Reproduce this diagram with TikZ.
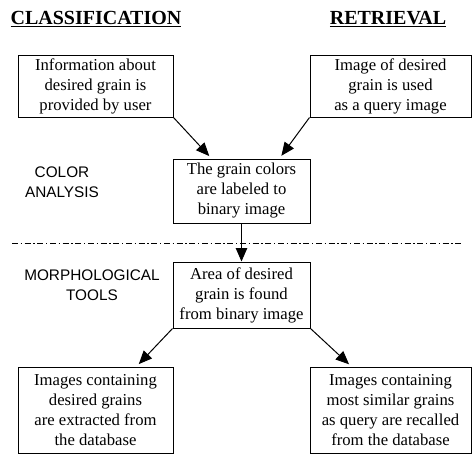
\documentclass[tikz,border=0pt]{standalone}
\usepackage{fontspec}
\setmainfont{Liberation Serif}
\setsansfont{Liberation Sans}
\usetikzlibrary{arrows.meta}
\tikzset{every picture/.style={line width=0.75pt}}
\tikzset{
  box/.style={draw, align=center, inner sep=0pt, font=\fontsize{12.5}{15}\selectfont},
  head/.style={font=\fontsize{15}{18}\selectfont\bfseries},
  side/.style={align=center, font=\sffamily\fontsize{11.5}{15}\selectfont},
  arr/.style={-{Triangle[length=10pt,width=8.5pt]}, shorten >=3pt}
}

\begin{document}
\begin{tikzpicture}[x=0.75pt,y=0.75pt,yscale=-1,xscale=1]
		\useasboundingbox (0,0) rectangle (474,462);
		
		% Text Node
		\node [head] (cls) at (96,19) {\underline{CLASSIFICATION}};
		% Text Node
		\node [head] (ret) at (388,19) {\underline{RETRIEVAL}};
		
		%Shape: Rectangle
		\node [box, minimum width=116.25pt, minimum height=46.5pt] (info) at (95.5,86) {Information about\\desired grain is\\provided by user};
		%Shape: Rectangle
		\node [box, minimum width=120.75pt, minimum height=46.5pt] (query) at (390.5,86) {Image of desired\\grain is used\\as a query image};
		%Shape: Rectangle
		\node [box, minimum width=102.75pt, minimum height=48pt] (label) at (241.5,191) {The grain colors\\are labeled to\\binary image};
		%Shape: Rectangle
		\node [box, minimum width=102.75pt, minimum height=49.5pt] (area) at (241.5,295) {Area of desired\\grain is found\\from binary image};
		%Shape: Rectangle
		\node [box, minimum width=116.25pt, minimum height=64.5pt] (extr) at (95.5,410) {Images containing\\desired grains\\are extracted from\\the database};
		%Shape: Rectangle
		\node [box, minimum width=120.75pt, minimum height=64.5pt] (recl) at (390.5,410) {Images containing\\most similar grains\\as query are recalled\\from the database};
		
		% Text Node
		\node [side] (col) at (62,182) {COLOR\\ANALYSIS};
		% Text Node
		\node [side] (mor) at (92,285) {MORPHOLOGICAL\\TOOLS};
		
		%Straight Lines
		\coordinate (inl) at (212,159);
		\coordinate (inr) at (279,159);
		\draw [arr] (info.south east) -- (inl);
		\draw [arr] (query.south west) -- (inr);
		%Straight Lines
		\draw [arr, shorten >=0pt] (label.south) -- (area.north);
		%Straight Lines
		\coordinate (outl) at (136,367);
		\coordinate (outr) at (352,367);
		\draw [arr] (area.south west) -- (outl);
		\draw [arr] (area.south east) -- (outr);
		
		%Straight Lines (dash dot)
		\coordinate (dl) at (12,243);
		\coordinate (dr) at (463,243);
		\draw [dash pattern=on 4.5pt off 2pt on 1pt off 2pt] (dl) -- (dr);
		
\end{tikzpicture}
\end{document}
